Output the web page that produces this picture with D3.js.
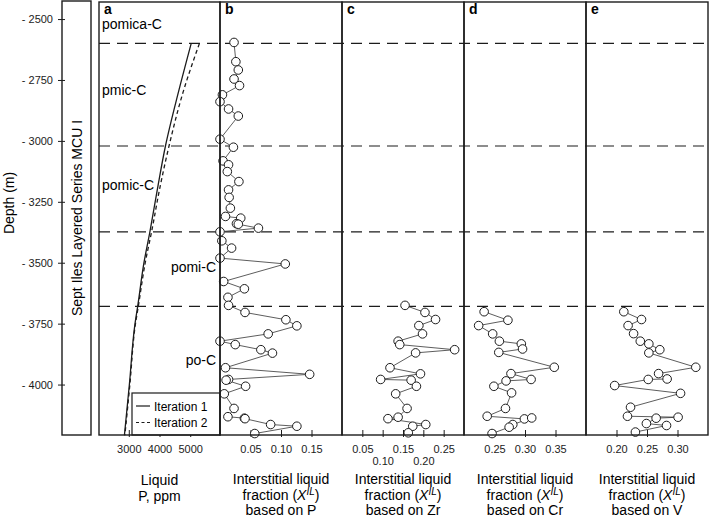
<!DOCTYPE html>
<html>
<head>
<meta charset="utf-8">
<script src="https://cdn.jsdelivr.net/npm/d3@7"></script>
<style>
  body { margin: 0; background: #fff; }
  svg { font-family: "Liberation Sans", Arial, sans-serif; }
</style>
</head>
<body>
<div id="chart"></div>
<script>
// Depth ticks and unit boundaries (m)
const depthTicks = [-2500, -2750, -3000, -3250, -3500, -3750, -4000];
const boundaries = [-2600, -3021, -3373, -3679];
const zones = ["pomica-C", "pmic-C", "pomic-C", "pomi-C", "po-C"];
const zoneDepths = [-2541, -2811, -3203, -3537, -3920];

// Panel a: liquid P (ppm) vs depth
const liqDepth1 = [-2600, -2800, -3021, -3200, -3373, -3500, -3679, -3750, -4000, -4208];
const liqP1 = [5032, 4616, 4194, 3929, 3687, 3494, 3290, 3203, 3019, 2858];
const liqDepth2 = [-2600, -2800, -3021, -3200, -3373, -3500, -3679, -3750, -4000, -4208];
const liqP2 = [5300, 4768, 4310, 4000, 3742, 3535, 3310, 3218, 3035, 2872];

// Panel b: interstitial liquid fraction based on P
const depthP = [-2596, -2675, -2709, -2746, -2773, -2811, -2839, -2869, -2898, -2993,
  -3026, -3082, -3098, -3126, -3167, -3201, -3232, -3276, -3310, -3317,
  -3340, -3342, -3358, -3373, -3410, -3440, -3481, -3505, -3577, -3607,
  -3642, -3675, -3704, -3734, -3759, -3792, -3822, -3836, -3857, -3871,
  -3931, -3958, -3979, -3982, -4007, -4038, -4098, -4132, -4138, -4140,
  -4164, -4171, -4201];
const xilP = [0.023, 0.026, 0.030, 0.023, 0.032, 0.004, 0.000, 0.014, 0.030, 0.000,
  0.022, 0.005, 0.014, 0.012, 0.031, 0.014, 0.015, 0.017, 0.009, 0.034,
  0.027, 0.030, 0.063, 0.000, 0.003, 0.019, 0.000, 0.107, 0.006, 0.040,
  0.013, 0.014, 0.041, 0.108, 0.126, 0.079, 0.000, 0.025, 0.067, 0.086,
  0.009, 0.147, 0.014, 0.010, 0.042, 0.007, 0.023, 0.013, 0.040, 0.041,
  0.083, 0.126, 0.057];

// Panel c: based on Zr
const depthZr = [-3675, -3704, -3733, -3758, -3792, -3822, -3836, -3857, -3870, -3931,
  -3956, -3979, -3982, -4007, -4038, -4098, -4134, -4140, -4164, -4171, -4198];
const xilZr = [0.155, 0.204, 0.230, 0.189, 0.198, 0.138, 0.142, 0.277, 0.181, 0.118,
  0.193, 0.095, 0.170, 0.183, 0.132, 0.160, 0.138, 0.113, 0.206, 0.174, 0.163];

// Panel d: based on Cr
const depthCr = [-3701, -3736, -3758, -3792, -3822, -3833, -3854, -3868, -3929, -3955,
  -3979, -3985, -4007, -4034, -4098, -4130, -4141, -4137, -4164, -4175, -4201];
const xilCr = [0.233, 0.272, 0.224, 0.247, 0.258, 0.294, 0.296, 0.257, 0.348, 0.277,
  0.310, 0.269, 0.249, 0.278, 0.268, 0.238, 0.299, 0.311, 0.280, 0.274, 0.246];

// Panel e: based on V
const depthV = [-3701, -3733, -3758, -3791, -3822, -3833, -3857, -3870, -3929, -3955,
  -3977, -3979, -4004, -4036, -4093, -4130, -4134, -4138, -4160, -4168, -4195];
const xilV = [0.212, 0.241, 0.219, 0.228, 0.239, 0.253, 0.271, 0.253, 0.330, 0.269,
  0.283, 0.252, 0.197, 0.305, 0.223, 0.218, 0.301, 0.265, 0.249, 0.282, 0.231];

// Layout
const W = 709, H = 517;
const plotTop = 2, plotBottom = 435;
const edges = [99, 220, 342, 464, 586, 708];
const ink = "#1c1c1c";

const svg = d3.select("#chart").append("svg")
  .attr("width", W)
  .attr("height", H);

const y = d3.scaleLinear().domain([-2430, -4207]).range([plotTop, plotBottom]);

const panels = [
  { key: "a", domain: [2030, 5970], ticks: [3000, 4000, 5000], fmt: d3.format("d"),
    title: ["Liquid", "P, ppm"] },
  { key: "b", domain: [0, 0.20], ticks: [0.05, 0.10, 0.15], fmt: d3.format(".2f"),
    depth: depthP, vals: xilP, el: "P" },
  { key: "c", domain: [0, 0.30], ticks: [0.05, 0.10, 0.15, 0.20, 0.25], fmt: d3.format(".2f"),
    depth: depthZr, vals: xilZr, el: "Zr", stagger: true },
  { key: "d", domain: [0.20, 0.40], ticks: [0.25, 0.30, 0.35], fmt: d3.format(".2f"),
    depth: depthCr, vals: xilCr, el: "Cr" },
  { key: "e", domain: [0.15, 0.35], ticks: [0.20, 0.25, 0.30], fmt: d3.format(".2f"),
    depth: depthV, vals: xilV, el: "V" }
];

// Depth axis label and the rotated series strip
svg.append("text")
  .attr("transform", "translate(14, 203) rotate(-90)")
  .attr("text-anchor", "middle")
  .style("font-size", "14px")
  .text("Depth (m)");

svg.append("rect")
  .attr("x", 62).attr("y", 1)
  .attr("width", 29).attr("height", plotBottom - 1)
  .attr("fill", "none").attr("stroke", ink).attr("stroke-width", 1.4);

svg.append("text")
  .attr("transform", "translate(82, 218) rotate(-90)")
  .attr("text-anchor", "middle")
  .style("font-size", "14px")
  .text("Sept Iles Layered Series MCU I");

const yAxis = svg.append("g")
  .attr("transform", "translate(65,0)")
  .call(d3.axisLeft(y).tickValues(depthTicks).tickSize(7).tickPadding(5)
    .tickFormat(d => "- " + (-d)));
yAxis.select(".domain").remove();
yAxis.selectAll("line").attr("stroke", ink);
yAxis.selectAll("text").style("font-size", "11px").attr("fill", ink);

// Panels
panels.forEach((p, i) => {
  const x0 = edges[i], x1 = edges[i + 1];
  const x = d3.scaleLinear().domain(p.domain).range([x0, x1]);
  p.x = x;
  const g = svg.append("g");

  const ax = g.append("g")
    .attr("transform", `translate(0,${plotBottom})`)
    .call(d3.axisBottom(x).tickValues(p.ticks).tickSizeInner(-5).tickSizeOuter(0)
      .tickPadding(10).tickFormat(p.fmt));
  ax.select(".domain").remove();
  ax.selectAll("line").attr("stroke", ink).attr("y1", 2);
  ax.selectAll("text").style("font-size", "11px").attr("fill", ink);
  if (p.stagger) {
    ax.selectAll(".tick text").attr("y", (d, j) => j % 2 ? 22 : 10);
  }

  // Axis title
  const cx = (x0 + x1) / 2;
  if (p.title) {
    p.title.forEach((t, j) => {
      g.append("text").attr("x", cx).attr("y", 485 + j * 15.5)
        .attr("text-anchor", "middle").style("font-size", "14px").text(t);
    });
  } else {
    g.append("text").attr("x", cx).attr("y", 484)
      .attr("text-anchor", "middle").style("font-size", "14px")
      .text("Interstitial liquid");
    const t2 = g.append("text").attr("x", cx).attr("y", 499.5)
      .attr("text-anchor", "middle").style("font-size", "14px");
    t2.append("tspan").text("fraction (");
    t2.append("tspan").style("font-style", "italic").text("X");
    t2.append("tspan").style("font-style", "italic").style("font-size", "10px")
      .attr("dy", -5).text("IL");
    t2.append("tspan").attr("dy", 5).text(")");
    g.append("text").attr("x", cx).attr("y", 515)
      .attr("text-anchor", "middle").style("font-size", "14px")
      .text("based on " + p.el);
  }

  // Panel letter
  g.append("text").attr("x", x0 + 5).attr("y", 13.5)
    .style("font-size", "14px").style("font-weight", "bold").text(p.key);
});

// Boundaries (dashed)
svg.selectAll(".bound")
  .data(boundaries)
  .enter()
  .append("line")
  .attr("class", "bound")
  .attr("x1", edges[0]).attr("x2", edges[5])
  .attr("y1", d => y(d)).attr("y2", d => y(d))
  .attr("stroke", ink).attr("stroke-width", 1.2)
  .attr("stroke-dasharray", "11,7");

// Panel a curves
const pa = panels[0];
const curve = (depths, vals) => d3.line()
  .x((d, j) => pa.x(vals[j]))
  .y(d => y(d))
  .curve(d3.curveMonotoneY)(depths);

svg.append("path")
  .attr("d", curve(liqDepth1, liqP1))
  .attr("fill", "none").attr("stroke", ink).attr("stroke-width", 1.3);
svg.append("path")
  .attr("d", curve(liqDepth2, liqP2))
  .attr("fill", "none").attr("stroke", ink).attr("stroke-width", 1.3)
  .attr("stroke-dasharray", "4,3");

// Zone labels
zones.forEach((z, j) => {
  const right = j >= 3;
  svg.append("text")
    .attr("x", right ? edges[1] - 4 : edges[0] + 3)
    .attr("y", y(zoneDepths[j]))
    .attr("text-anchor", right ? "end" : "start")
    .style("font-size", "14px")
    .text(z);
});

// Legend
const lg = svg.append("g");
lg.append("rect")
  .attr("x", 132).attr("y", 393)
  .attr("width", edges[1] - 132).attr("height", plotBottom - 393)
  .attr("fill", "#fff").attr("stroke", ink).attr("stroke-width", 1.2);
["Iteration 1", "Iteration 2"].forEach((t, j) => {
  const ly = 406 + j * 16.5;
  lg.append("line")
    .attr("x1", 136).attr("x2", 150).attr("y1", ly).attr("y2", ly)
    .attr("stroke", ink).attr("stroke-width", 1.2)
    .attr("stroke-dasharray", j ? "3,2.5" : null);
  lg.append("text").attr("x", 154).attr("y", ly + 4.5)
    .style("font-size", "12px").text(t);
});

// Point series
panels.slice(1).forEach(p => {
  const pts = p.depth.map((d, j) => [p.x(p.vals[j]), y(d)]);
  svg.append("path")
    .attr("d", d3.line()(pts))
    .attr("fill", "none").attr("stroke", "#333").attr("stroke-width", 0.8);
  svg.append("g").selectAll("circle")
    .data(pts)
    .enter()
    .append("circle")
    .attr("cx", d => d[0]).attr("cy", d => d[1]).attr("r", 4.3)
    .attr("fill", "#fff").attr("stroke", ink).attr("stroke-width", 1);
});

// Panel frames
svg.append("g").selectAll("rect")
  .data(d3.pairs(edges))
  .enter()
  .append("rect")
  .attr("x", d => d[0]).attr("y", plotTop)
  .attr("width", d => d[1] - d[0]).attr("height", plotBottom - plotTop)
  .attr("fill", "none").attr("stroke", ink).attr("stroke-width", 1.4);
</script>
</body>
</html>
